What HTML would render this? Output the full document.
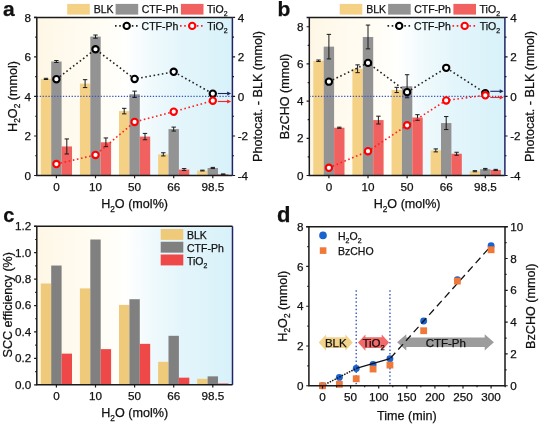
<!DOCTYPE html><html><head><meta charset="utf-8"><style>html,body{margin:0;padding:0;background:#fff;width:540px;height:424px;overflow:hidden}svg{display:block;will-change:transform}text{font-family:"Liberation Sans",sans-serif;fill:#111;stroke:#111;stroke-width:0.25px}</style></head><body>
<svg width="540" height="424" viewBox="0 0 540 424">
<linearGradient id="ga" x1="0" y1="0" x2="1" y2="0"><stop offset="0" stop-color="#fef7e6"/><stop offset="0.17" stop-color="#fffaee"/><stop offset="0.35" stop-color="#fffdf5"/><stop offset="0.45" stop-color="#fffffd"/><stop offset="0.53" stop-color="#f7fcfe"/><stop offset="0.6" stop-color="#eef9fc"/><stop offset="0.76" stop-color="#e2f5fb"/><stop offset="1" stop-color="#d8f1f9"/></linearGradient>
<rect x="36.8" y="17.45" width="195.6" height="158.05" fill="url(#ga)"/>
<rect x="40.8" y="78.89" width="10.4" height="96.61" fill="#f4d185"/>
<rect x="51.2" y="61.51" width="10.4" height="113.99" fill="#939393"/>
<rect x="61.6" y="146.46" width="10.4" height="29.04" fill="#f1615f"/>
<rect x="79.9" y="83.63" width="10.4" height="91.87" fill="#f4d185"/>
<rect x="90.3" y="36.61" width="10.4" height="138.89" fill="#939393"/>
<rect x="100.7" y="142.31" width="10.4" height="33.19" fill="#f1615f"/>
<rect x="119" y="111.09" width="10.4" height="64.41" fill="#f4d185"/>
<rect x="129.4" y="94.3" width="10.4" height="81.2" fill="#939393"/>
<rect x="139.8" y="136.58" width="10.4" height="38.92" fill="#f1615f"/>
<rect x="158.1" y="154.36" width="10.4" height="21.14" fill="#f4d185"/>
<rect x="168.5" y="129.07" width="10.4" height="46.43" fill="#939393"/>
<rect x="178.9" y="169.57" width="10.4" height="5.93" fill="#f1615f"/>
<rect x="197.2" y="170.56" width="10.4" height="4.94" fill="#f4d185"/>
<rect x="207.6" y="167.99" width="10.4" height="7.51" fill="#939393"/>
<rect x="218" y="174.31" width="10.4" height="1.19" fill="#f1615f"/>
<path d="M46 78.3V79.48M43.8 78.3H48.2M43.8 79.48H48.2" stroke="#1a1a1a" stroke-width="1" fill="none"/>
<path d="M56.4 60.52V62.49M54.2 60.52H58.6M54.2 62.49H58.6" stroke="#1a1a1a" stroke-width="1" fill="none"/>
<path d="M66.8 138.95V153.97M64.6 138.95H69M64.6 153.97H69" stroke="#1a1a1a" stroke-width="1" fill="none"/>
<path d="M85.1 79.68V87.58M82.9 79.68H87.3M82.9 87.58H87.3" stroke="#1a1a1a" stroke-width="1" fill="none"/>
<path d="M95.5 35.03V38.19M93.3 35.03H97.7M93.3 38.19H97.7" stroke="#1a1a1a" stroke-width="1" fill="none"/>
<path d="M105.9 137.96V146.66M103.7 137.96H108.1M103.7 146.66H108.1" stroke="#1a1a1a" stroke-width="1" fill="none"/>
<path d="M124.2 108.33V113.86M122 108.33H126.4M122 113.86H126.4" stroke="#1a1a1a" stroke-width="1" fill="none"/>
<path d="M134.6 91.14V97.46M132.4 91.14H136.8M132.4 97.46H136.8" stroke="#1a1a1a" stroke-width="1" fill="none"/>
<path d="M145 133.42V139.74M142.8 133.42H147.2M142.8 139.74H147.2" stroke="#1a1a1a" stroke-width="1" fill="none"/>
<path d="M163.3 152.78V155.94M161.1 152.78H165.5M161.1 155.94H165.5" stroke="#1a1a1a" stroke-width="1" fill="none"/>
<path d="M173.7 127.1V131.05M171.5 127.1H175.9M171.5 131.05H175.9" stroke="#1a1a1a" stroke-width="1" fill="none"/>
<path d="M184.1 168.59V170.56M181.9 168.59H186.3M181.9 170.56H186.3" stroke="#1a1a1a" stroke-width="1" fill="none"/>
<path d="M202.4 170.17V170.96M200.2 170.17H204.6M200.2 170.96H204.6" stroke="#1a1a1a" stroke-width="1" fill="none"/>
<path d="M212.8 167.4V168.59M210.6 167.4H215M210.6 168.59H215" stroke="#1a1a1a" stroke-width="1" fill="none"/>
<path d="M223.2 173.92V174.71M221 173.92H225.4M221 174.71H225.4" stroke="#1a1a1a" stroke-width="1" fill="none"/>
<line x1="36.8" y1="96.47" x2="232.4" y2="96.47" stroke="#3a58c0" stroke-width="1.3" stroke-dasharray="1.3 1.6"/>
<polyline points="56.4,79.19 95.5,49.26 134.6,78.97 173.7,71.78 212.8,93.71" fill="none" stroke="#222" stroke-width="1.6" stroke-dasharray="1.6 2.6"/>
<polyline points="56.4,164.04 95.5,154.95 134.6,121.96 173.7,111.69 212.8,100.72" fill="none" stroke="#ff2020" stroke-width="1.6" stroke-dasharray="1.6 2.6"/>
<circle cx="56.4" cy="79.19" r="3.15" fill="#fff" stroke="#000" stroke-width="2.1"/>
<circle cx="95.5" cy="49.26" r="3.15" fill="#fff" stroke="#000" stroke-width="2.1"/>
<circle cx="134.6" cy="78.97" r="3.15" fill="#fff" stroke="#000" stroke-width="2.1"/>
<circle cx="173.7" cy="71.78" r="3.15" fill="#fff" stroke="#000" stroke-width="2.1"/>
<circle cx="212.8" cy="93.71" r="3.15" fill="#fff" stroke="#000" stroke-width="2.1"/>
<circle cx="56.4" cy="164.04" r="3.15" fill="#fff" stroke="#ff0000" stroke-width="2.1"/>
<circle cx="95.5" cy="154.95" r="3.15" fill="#fff" stroke="#ff0000" stroke-width="2.1"/>
<circle cx="134.6" cy="121.96" r="3.15" fill="#fff" stroke="#ff0000" stroke-width="2.1"/>
<circle cx="173.7" cy="111.69" r="3.15" fill="#fff" stroke="#ff0000" stroke-width="2.1"/>
<circle cx="212.8" cy="100.72" r="3.15" fill="#fff" stroke="#ff0000" stroke-width="2.1"/>
<path d="M217.8 93.5H228.2" stroke="#1e2466" stroke-width="1.1"/>
<path d="M227.2 91.5L231.2 93.5L227.2 95.5Z" fill="#1e2466"/>
<path d="M217.8 101.5H228.2" stroke="#ff2020" stroke-width="1.1"/>
<path d="M227.2 99.5L231.2 101.5L227.2 103.5Z" fill="#ff2020"/>
<path d="M36.8 17.45V175.5H232.4M34.1 17.45H232.4" stroke="#1a1a1a" stroke-width="1.5" fill="none"/>
<path d="M232.4 17.45V175.5" stroke="#1e2466" stroke-width="1.5" fill="none"/>
<path d="M34.1 175.5H36.8M34.1 135.99H36.8M34.1 96.47H36.8M34.1 56.96H36.8M34.1 17.45H36.8M35.2 155.74H36.8M35.2 116.23H36.8M35.2 76.72H36.8M35.2 37.21H36.8M232.4 175.5H235.1M232.4 135.99H235.1M232.4 96.47H235.1M232.4 56.96H235.1M232.4 17.45H235.1M232.4 155.74H234M232.4 116.23H234M232.4 76.72H234M232.4 37.21H234M56.4 175.5V178.2M95.5 175.5V178.2M134.6 175.5V178.2M173.7 175.5V178.2M212.8 175.5V178.2" stroke="#1a1a1a" stroke-width="1.2" fill="none"/>
<text x="31.1" y="179.6" font-size="11.7" text-anchor="end" >0</text>
<text x="31.1" y="140.09" font-size="11.7" text-anchor="end" >2</text>
<text x="31.1" y="100.57" font-size="11.7" text-anchor="end" >4</text>
<text x="31.1" y="61.06" font-size="11.7" text-anchor="end" >6</text>
<text x="31.1" y="21.55" font-size="11.7" text-anchor="end" >8</text>
<text x="237.7" y="179.6" font-size="11.7" text-anchor="start" >-4</text>
<text x="237.7" y="140.09" font-size="11.7" text-anchor="start" >-2</text>
<text x="237.7" y="100.57" font-size="11.7" text-anchor="start" >0</text>
<text x="237.7" y="61.06" font-size="11.7" text-anchor="start" >2</text>
<text x="237.7" y="21.55" font-size="11.7" text-anchor="start" >4</text>
<text x="56.4" y="191.1" font-size="11.7" text-anchor="middle" >0</text>
<text x="95.5" y="191.1" font-size="11.7" text-anchor="middle" >10</text>
<text x="134.6" y="191.1" font-size="11.7" text-anchor="middle" >50</text>
<text x="173.7" y="191.1" font-size="11.7" text-anchor="middle" >66</text>
<text x="212.8" y="191.1" font-size="11.7" text-anchor="middle" >98.5</text>
<text x="134.6" y="208.1" font-size="12.6" text-anchor="middle" >H<tspan dy="3.53" font-size="8.32">2</tspan><tspan dy="-3.53">O (mol%)</tspan></text>
<text transform="translate(16.9,96.47) rotate(-90)" font-size="12.6" text-anchor="middle">H<tspan dy="3.53" font-size="8.32">2</tspan><tspan dy="-3.53">O<tspan dy="3.53" font-size="8.32">2</tspan><tspan dy="-3.53"> (mmol)</tspan></tspan></text>
<text transform="translate(261.6,96.47) rotate(-90)" font-size="12.6" text-anchor="middle">Photocat. - BLK (mmol)</text>
<text x="3" y="15.5" font-size="21" font-weight="bold">a</text>
<rect x="67.2" y="3.9" width="22.6" height="10.7" fill="#f4d185"/>
<text x="93.7" y="13.3" font-size="10.5" text-anchor="start" >BLK</text>
<rect x="115.6" y="3.9" width="22.6" height="10.7" fill="#939393"/>
<text x="141.7" y="13.3" font-size="10.5" text-anchor="start" >CTF-Ph</text>
<rect x="180.9" y="3.9" width="22.6" height="10.7" fill="#f1615f"/>
<text x="207.1" y="13.3" font-size="10.5" text-anchor="start" >TiO<tspan dy="2.94" font-size="6.93">2</tspan><tspan dy="-2.94"></tspan></text>
<path d="M115 25.9H138.5" stroke="#222" stroke-width="1.6" stroke-dasharray="1.6 2.6"/>
<circle cx="126.7" cy="25.9" r="3.15" fill="#fff" stroke="#000" stroke-width="2.1"/>
<text x="141.6" y="29.8" font-size="10.5" text-anchor="start" >CTF-Ph</text>
<path d="M180 25.9H204" stroke="#ff2020" stroke-width="1.6" stroke-dasharray="1.6 2.6"/>
<circle cx="192.2" cy="25.9" r="3.15" fill="#fff" stroke="#ff0000" stroke-width="2.1"/>
<text x="207.2" y="29.8" font-size="10.5" text-anchor="start" >TiO<tspan dy="2.94" font-size="6.93">2</tspan><tspan dy="-2.94"></tspan></text>
<linearGradient id="gb" x1="0" y1="0" x2="1" y2="0"><stop offset="0" stop-color="#fef7e6"/><stop offset="0.17" stop-color="#fffaee"/><stop offset="0.35" stop-color="#fffdf5"/><stop offset="0.45" stop-color="#fffffd"/><stop offset="0.53" stop-color="#f7fcfe"/><stop offset="0.6" stop-color="#eef9fc"/><stop offset="0.76" stop-color="#e2f5fb"/><stop offset="1" stop-color="#d8f1f9"/></linearGradient>
<rect x="309.3" y="17.45" width="195.6" height="158.05" fill="url(#gb)"/>
<rect x="313.3" y="60.77" width="10.4" height="114.73" fill="#f4d185"/>
<rect x="323.7" y="46.64" width="10.4" height="128.86" fill="#939393"/>
<rect x="334.1" y="127.71" width="10.4" height="47.79" fill="#f1615f"/>
<rect x="352.4" y="68.77" width="10.4" height="106.73" fill="#f4d185"/>
<rect x="362.8" y="36.97" width="10.4" height="138.53" fill="#939393"/>
<rect x="373.2" y="120.09" width="10.4" height="55.41" fill="#f1615f"/>
<rect x="391.5" y="89.97" width="10.4" height="85.53" fill="#f4d185"/>
<rect x="401.9" y="86.25" width="10.4" height="89.25" fill="#939393"/>
<rect x="412.3" y="117.49" width="10.4" height="58.01" fill="#f1615f"/>
<rect x="430.6" y="150.4" width="10.4" height="25.1" fill="#f4d185"/>
<rect x="441" y="123.06" width="10.4" height="52.44" fill="#939393"/>
<rect x="451.4" y="153.74" width="10.4" height="21.76" fill="#f1615f"/>
<rect x="469.7" y="171.22" width="10.4" height="4.28" fill="#f4d185"/>
<rect x="480.1" y="169.18" width="10.4" height="6.32" fill="#939393"/>
<rect x="490.5" y="169.92" width="10.4" height="5.58" fill="#f1615f"/>
<path d="M318.5 60.03V61.52M316.3 60.03H320.7M316.3 61.52H320.7" stroke="#1a1a1a" stroke-width="1" fill="none"/>
<path d="M328.9 34.37V58.91M326.7 34.37H331.1M326.7 58.91H331.1" stroke="#1a1a1a" stroke-width="1" fill="none"/>
<path d="M339.3 127.16V128.27M337.1 127.16H341.5M337.1 128.27H341.5" stroke="#1a1a1a" stroke-width="1" fill="none"/>
<path d="M357.6 64.86V72.67M355.4 64.86H359.8M355.4 72.67H359.8" stroke="#1a1a1a" stroke-width="1" fill="none"/>
<path d="M368 25.07V48.87M365.8 25.07H370.2M365.8 48.87H370.2" stroke="#1a1a1a" stroke-width="1" fill="none"/>
<path d="M378.4 116.18V123.99M376.2 116.18H380.6M376.2 123.99H380.6" stroke="#1a1a1a" stroke-width="1" fill="none"/>
<path d="M396.7 87.36V92.57M394.5 87.36H398.9M394.5 92.57H398.9" stroke="#1a1a1a" stroke-width="1" fill="none"/>
<path d="M407.1 74.72V97.78M404.9 74.72H409.3M404.9 97.78H409.3" stroke="#1a1a1a" stroke-width="1" fill="none"/>
<path d="M417.5 114.7V120.28M415.3 114.7H419.7M415.3 120.28H419.7" stroke="#1a1a1a" stroke-width="1" fill="none"/>
<path d="M435.8 148.91V151.89M433.6 148.91H438M433.6 151.89H438" stroke="#1a1a1a" stroke-width="1" fill="none"/>
<path d="M446.2 116.56V129.57M444 116.56H448.4M444 129.57H448.4" stroke="#1a1a1a" stroke-width="1" fill="none"/>
<path d="M456.6 152.26V155.23M454.4 152.26H458.8M454.4 155.23H458.8" stroke="#1a1a1a" stroke-width="1" fill="none"/>
<path d="M474.9 170.67V171.78M472.7 170.67H477.1M472.7 171.78H477.1" stroke="#1a1a1a" stroke-width="1" fill="none"/>
<path d="M485.3 168.43V169.92M483.1 168.43H487.5M483.1 169.92H487.5" stroke="#1a1a1a" stroke-width="1" fill="none"/>
<path d="M495.7 169.36V170.48M493.5 169.36H497.9M493.5 170.48H497.9" stroke="#1a1a1a" stroke-width="1" fill="none"/>
<line x1="309.3" y1="96.47" x2="504.9" y2="96.47" stroke="#3a58c0" stroke-width="1.3" stroke-dasharray="1.3 1.6"/>
<polyline points="328.9,81.66 368,62.89 407.1,92.13 446.2,67.83 485.3,93.12" fill="none" stroke="#222" stroke-width="1.6" stroke-dasharray="1.6 2.6"/>
<polyline points="328.9,167.8 368,151.2 407.1,125.32 446.2,100.43 485.3,95.29" fill="none" stroke="#ff2020" stroke-width="1.6" stroke-dasharray="1.6 2.6"/>
<circle cx="328.9" cy="81.66" r="3.15" fill="#fff" stroke="#000" stroke-width="2.1"/>
<circle cx="368" cy="62.89" r="3.15" fill="#fff" stroke="#000" stroke-width="2.1"/>
<circle cx="407.1" cy="92.13" r="3.15" fill="#fff" stroke="#000" stroke-width="2.1"/>
<circle cx="446.2" cy="67.83" r="3.15" fill="#fff" stroke="#000" stroke-width="2.1"/>
<circle cx="485.3" cy="93.12" r="3.15" fill="#fff" stroke="#000" stroke-width="2.1"/>
<circle cx="328.9" cy="167.8" r="3.15" fill="#fff" stroke="#ff0000" stroke-width="2.1"/>
<circle cx="368" cy="151.2" r="3.15" fill="#fff" stroke="#ff0000" stroke-width="2.1"/>
<circle cx="407.1" cy="125.32" r="3.15" fill="#fff" stroke="#ff0000" stroke-width="2.1"/>
<circle cx="446.2" cy="100.43" r="3.15" fill="#fff" stroke="#ff0000" stroke-width="2.1"/>
<circle cx="485.3" cy="95.29" r="3.15" fill="#fff" stroke="#ff0000" stroke-width="2.1"/>
<path d="M490.3 91.3H500.7" stroke="#1e2466" stroke-width="1.1"/>
<path d="M499.7 89.3L503.7 91.3L499.7 93.3Z" fill="#1e2466"/>
<path d="M490.3 97.5H500.7" stroke="#ff2020" stroke-width="1.1"/>
<path d="M499.7 95.5L503.7 97.5L499.7 99.5Z" fill="#ff2020"/>
<path d="M309.3 17.45V175.5H504.9M306.6 17.45H504.9" stroke="#1a1a1a" stroke-width="1.5" fill="none"/>
<path d="M504.9 17.45V175.5" stroke="#1e2466" stroke-width="1.5" fill="none"/>
<path d="M306.6 175.5H309.3M306.6 138.31H309.3M306.6 101.12H309.3M306.6 63.94H309.3M306.6 26.75H309.3M307.7 156.91H309.3M307.7 119.72H309.3M307.7 82.53H309.3M307.7 45.34H309.3M504.9 175.5H507.6M504.9 135.99H507.6M504.9 96.47H507.6M504.9 56.96H507.6M504.9 17.45H507.6M504.9 155.74H506.5M504.9 116.23H506.5M504.9 76.72H506.5M504.9 37.21H506.5M328.9 175.5V178.2M368 175.5V178.2M407.1 175.5V178.2M446.2 175.5V178.2M485.3 175.5V178.2" stroke="#1a1a1a" stroke-width="1.2" fill="none"/>
<text x="303.6" y="179.6" font-size="11.7" text-anchor="end" >0</text>
<text x="303.6" y="142.41" font-size="11.7" text-anchor="end" >2</text>
<text x="303.6" y="105.22" font-size="11.7" text-anchor="end" >4</text>
<text x="303.6" y="68.04" font-size="11.7" text-anchor="end" >6</text>
<text x="303.6" y="30.85" font-size="11.7" text-anchor="end" >8</text>
<text x="510.2" y="179.6" font-size="11.7" text-anchor="start" >-4</text>
<text x="510.2" y="140.09" font-size="11.7" text-anchor="start" >-2</text>
<text x="510.2" y="100.57" font-size="11.7" text-anchor="start" >0</text>
<text x="510.2" y="61.06" font-size="11.7" text-anchor="start" >2</text>
<text x="510.2" y="21.55" font-size="11.7" text-anchor="start" >4</text>
<text x="328.9" y="191.1" font-size="11.7" text-anchor="middle" >0</text>
<text x="368" y="191.1" font-size="11.7" text-anchor="middle" >10</text>
<text x="407.1" y="191.1" font-size="11.7" text-anchor="middle" >50</text>
<text x="446.2" y="191.1" font-size="11.7" text-anchor="middle" >66</text>
<text x="485.3" y="191.1" font-size="11.7" text-anchor="middle" >98.5</text>
<text x="407.1" y="208.1" font-size="12.6" text-anchor="middle" >H<tspan dy="3.53" font-size="8.32">2</tspan><tspan dy="-3.53">O (mol%)</tspan></text>
<text transform="translate(289.4,96.47) rotate(-90)" font-size="12.6" text-anchor="middle">BzCHO (mmol)</text>
<text transform="translate(534.1,96.47) rotate(-90)" font-size="12.6" text-anchor="middle">Photocat. - BLK (mmol)</text>
<text x="277.6" y="15.5" font-size="21" font-weight="bold">b</text>
<rect x="339.7" y="3.9" width="22.6" height="10.7" fill="#f4d185"/>
<text x="366.2" y="13.3" font-size="10.5" text-anchor="start" >BLK</text>
<rect x="388.1" y="3.9" width="22.6" height="10.7" fill="#939393"/>
<text x="414.2" y="13.3" font-size="10.5" text-anchor="start" >CTF-Ph</text>
<rect x="453.4" y="3.9" width="22.6" height="10.7" fill="#f1615f"/>
<text x="479.6" y="13.3" font-size="10.5" text-anchor="start" >TiO<tspan dy="2.94" font-size="6.93">2</tspan><tspan dy="-2.94"></tspan></text>
<path d="M387.5 25.9H411" stroke="#222" stroke-width="1.6" stroke-dasharray="1.6 2.6"/>
<circle cx="399.2" cy="25.9" r="3.15" fill="#fff" stroke="#000" stroke-width="2.1"/>
<text x="414.1" y="29.8" font-size="10.5" text-anchor="start" >CTF-Ph</text>
<path d="M452.5 25.9H476.5" stroke="#ff2020" stroke-width="1.6" stroke-dasharray="1.6 2.6"/>
<circle cx="464.7" cy="25.9" r="3.15" fill="#fff" stroke="#ff0000" stroke-width="2.1"/>
<text x="479.7" y="29.8" font-size="10.5" text-anchor="start" >TiO<tspan dy="2.94" font-size="6.93">2</tspan><tspan dy="-2.94"></tspan></text>
<linearGradient id="gc" x1="0" y1="0" x2="1" y2="0"><stop offset="0" stop-color="#fef7e6"/><stop offset="0.17" stop-color="#fffaee"/><stop offset="0.35" stop-color="#fffdf5"/><stop offset="0.45" stop-color="#fffffd"/><stop offset="0.53" stop-color="#f7fcfe"/><stop offset="0.6" stop-color="#eef9fc"/><stop offset="0.76" stop-color="#e2f5fb"/><stop offset="1" stop-color="#d8f1f9"/></linearGradient>
<rect x="36.8" y="226.3" width="195.7" height="158.5" fill="url(#gc)"/>
<rect x="40.8" y="283.49" width="10.4" height="101.31" fill="#efca7b"/>
<rect x="51.2" y="265.53" width="10.4" height="119.27" fill="#808080"/>
<rect x="61.6" y="353.63" width="10.4" height="31.17" fill="#ef4848"/>
<rect x="79.9" y="288.38" width="10.4" height="96.42" fill="#efca7b"/>
<rect x="90.3" y="239.51" width="10.4" height="145.29" fill="#808080"/>
<rect x="100.7" y="349.14" width="10.4" height="35.66" fill="#ef4848"/>
<rect x="119" y="304.89" width="10.4" height="79.91" fill="#efca7b"/>
<rect x="129.4" y="299.21" width="10.4" height="85.59" fill="#808080"/>
<rect x="139.8" y="343.85" width="10.4" height="40.95" fill="#ef4848"/>
<rect x="158.1" y="361.82" width="10.4" height="22.98" fill="#efca7b"/>
<rect x="168.5" y="335.8" width="10.4" height="49" fill="#808080"/>
<rect x="178.9" y="377.67" width="10.4" height="7.13" fill="#ef4848"/>
<rect x="197.2" y="378.86" width="10.4" height="5.94" fill="#efca7b"/>
<rect x="207.6" y="376.35" width="10.4" height="8.45" fill="#808080"/>
<rect x="218" y="383.48" width="10.4" height="1.32" fill="#ef4848"/>
<path d="M36.8 226.3V384.8H232.5M34.1 226.3H232.5" stroke="#1a1a1a" stroke-width="1.5" fill="none"/>
<path d="M232.5 226.3V384.8" stroke="#1e2466" stroke-width="1.5" fill="none"/>
<path d="M34.1 384.8H36.8M34.1 358.38H36.8M34.1 331.97H36.8M34.1 305.55H36.8M34.1 279.13H36.8M34.1 252.72H36.8M34.1 226.3H36.8M35.2 371.59H36.8M35.2 345.18H36.8M35.2 318.76H36.8M35.2 292.34H36.8M35.2 265.93H36.8M35.2 239.51H36.8M56.4 384.8V387.5M95.5 384.8V387.5M134.6 384.8V387.5M173.7 384.8V387.5M212.8 384.8V387.5" stroke="#1a1a1a" stroke-width="1.2" fill="none"/>
<text x="31.3" y="388.7" font-size="11.7" text-anchor="end" >0.0</text>
<text x="31.3" y="362.28" font-size="11.7" text-anchor="end" >0.2</text>
<text x="31.3" y="335.87" font-size="11.7" text-anchor="end" >0.4</text>
<text x="31.3" y="309.45" font-size="11.7" text-anchor="end" >0.6</text>
<text x="31.3" y="283.03" font-size="11.7" text-anchor="end" >0.8</text>
<text x="31.3" y="256.62" font-size="11.7" text-anchor="end" >1.0</text>
<text x="31.3" y="230.2" font-size="11.7" text-anchor="end" >1.2</text>
<text x="56.4" y="400.4" font-size="11.7" text-anchor="middle" >0</text>
<text x="95.5" y="400.4" font-size="11.7" text-anchor="middle" >10</text>
<text x="134.6" y="400.4" font-size="11.7" text-anchor="middle" >50</text>
<text x="173.7" y="400.4" font-size="11.7" text-anchor="middle" >66</text>
<text x="212.8" y="400.4" font-size="11.7" text-anchor="middle" >98.5</text>
<text x="134.65" y="417.4" font-size="12.6" text-anchor="middle" >H<tspan dy="3.53" font-size="8.32">2</tspan><tspan dy="-3.53">O (mol%)</tspan></text>
<text transform="translate(11.6,304.75) rotate(-90)" font-size="12.6" text-anchor="middle">SCC efficiency (%)</text>
<text x="3.2" y="222.3" font-size="20" font-weight="bold">c</text>
<rect x="160.7" y="229" width="22.6" height="10.9" fill="#efca7b"/>
<text x="187" y="239.1" font-size="10.5" text-anchor="start" >BLK</text>
<rect x="160.7" y="241.75" width="22.6" height="10.9" fill="#808080"/>
<text x="187" y="251.85" font-size="10.5" text-anchor="start" >CTF-Ph</text>
<rect x="160.7" y="254.5" width="22.6" height="10.9" fill="#ef4848"/>
<text x="187" y="264.6" font-size="10.5" text-anchor="start" >TiO<tspan dy="2.94" font-size="6.93">2</tspan><tspan dy="-2.94"></tspan></text>
<line x1="356.22" y1="290.2" x2="356.22" y2="385.75" stroke="#3a58c0" stroke-width="1.4" stroke-dasharray="1.5 2.2"/>
<line x1="389.94" y1="290.2" x2="389.94" y2="385.75" stroke="#3a58c0" stroke-width="1.4" stroke-dasharray="1.5 2.2"/>
<path d="M318.7 342.6L326.1 334.5V337.3H345.4V334.5L352.8 342.6L345.4 350.7V347.9H326.1V350.7Z" fill="#f2d38c"/>
<path d="M358 342.6L365.4 334.5V337.3H381.7V334.5L389.1 342.6L381.7 350.7V347.9H365.4V350.7Z" fill="#f26a6a"/>
<path d="M397.1 342.3L406.3 334.2V337.5H484.7V334.2L493.9 342.3L484.7 350.4V347.1H406.3V350.4Z" fill="#9c9c9c"/>
<text x="335.8" y="347" font-size="11.5" text-anchor="middle" >BLK</text>
<text x="373.6" y="347" font-size="11.5" text-anchor="middle" >TiO<tspan dy="3.22" font-size="7.59">2</tspan><tspan dy="-3.22"></tspan></text>
<text x="445.8" y="347" font-size="11.5" text-anchor="middle" >CTF-Ph</text>
<circle cx="322.5" cy="385.75" r="3.45" fill="#1a62d0"/>
<circle cx="339.36" cy="377.4" r="3.45" fill="#1a62d0"/>
<circle cx="356.22" cy="368.45" r="3.45" fill="#1a62d0"/>
<circle cx="373.08" cy="364.48" r="3.45" fill="#1a62d0"/>
<circle cx="389.94" cy="358.71" r="3.45" fill="#1a62d0"/>
<circle cx="423.66" cy="320.94" r="3.45" fill="#1a62d0"/>
<circle cx="457.38" cy="279.58" r="3.45" fill="#1a62d0"/>
<circle cx="491.1" cy="245.79" r="3.45" fill="#1a62d0"/>
<path d="M322.5 385.75L356.22 368.45" stroke="#111" stroke-width="1.5" stroke-dasharray="1.5 1.2"/>
<path d="M356.22 368.45L389.94 358.71" stroke="#111" stroke-width="1.3"/>
<path d="M491.1 245.79L389.94 358.71" stroke="#111" stroke-width="1.3" stroke-dasharray="7.2 4.4" stroke-dashoffset="7.2"/>
<rect x="319.1" y="382.35" width="6.8" height="6.8" fill="#f07838"/>
<rect x="335.96" y="380.92" width="6.8" height="6.8" fill="#f07838"/>
<rect x="352.82" y="375.35" width="6.8" height="6.8" fill="#f07838"/>
<rect x="369.68" y="365.65" width="6.8" height="6.8" fill="#f07838"/>
<rect x="386.54" y="361.67" width="6.8" height="6.8" fill="#f07838"/>
<rect x="420.26" y="327.32" width="6.8" height="6.8" fill="#f07838"/>
<rect x="453.98" y="277.7" width="6.8" height="6.8" fill="#f07838"/>
<rect x="487.7" y="246.36" width="6.8" height="6.8" fill="#f07838"/>
<path d="M308.9 226.7V385.75H505V226.7M306.2 226.7H507.7" stroke="#1a1a1a" stroke-width="1.5" fill="none"/>
<path d="M306.2 385.75H308.9M306.2 345.99H308.9M306.2 306.23H308.9M306.2 266.46H308.9M306.2 226.7H308.9M307.3 365.87H308.9M307.3 326.11H308.9M307.3 286.34H308.9M307.3 246.58H308.9M505 385.75H507.7M505 353.94H507.7M505 322.13H507.7M505 290.32H507.7M505 258.51H507.7M505 226.7H507.7M505 369.85H506.6M505 338.03H506.6M505 306.23H506.6M505 274.41H506.6M505 242.6H506.6M322.5 385.75V388.45M350.6 385.75V388.45M378.7 385.75V388.45M406.8 385.75V388.45M434.9 385.75V388.45M463 385.75V388.45M491.1 385.75V388.45M336.55 385.75V387.35M364.65 385.75V387.35M392.75 385.75V387.35M420.85 385.75V387.35M448.95 385.75V387.35M477.05 385.75V387.35M505.15 385.75V387.35" stroke="#1a1a1a" stroke-width="1.2" fill="none"/>
<text x="303.4" y="389.85" font-size="11.7" text-anchor="end" >0</text>
<text x="303.4" y="350.09" font-size="11.7" text-anchor="end" >2</text>
<text x="303.4" y="310.33" font-size="11.7" text-anchor="end" >4</text>
<text x="303.4" y="270.56" font-size="11.7" text-anchor="end" >6</text>
<text x="303.4" y="230.8" font-size="11.7" text-anchor="end" >8</text>
<text x="510.3" y="389.85" font-size="11.7" text-anchor="start" >0</text>
<text x="510.3" y="358.04" font-size="11.7" text-anchor="start" >2</text>
<text x="510.3" y="326.23" font-size="11.7" text-anchor="start" >4</text>
<text x="510.3" y="294.42" font-size="11.7" text-anchor="start" >6</text>
<text x="510.3" y="262.61" font-size="11.7" text-anchor="start" >8</text>
<text x="510.3" y="230.8" font-size="11.7" text-anchor="start" >10</text>
<text x="322.5" y="401.35" font-size="11.7" text-anchor="middle" >0</text>
<text x="350.6" y="401.35" font-size="11.7" text-anchor="middle" >50</text>
<text x="378.7" y="401.35" font-size="11.7" text-anchor="middle" >100</text>
<text x="406.8" y="401.35" font-size="11.7" text-anchor="middle" >150</text>
<text x="434.9" y="401.35" font-size="11.7" text-anchor="middle" >200</text>
<text x="463" y="401.35" font-size="11.7" text-anchor="middle" >250</text>
<text x="491.1" y="401.35" font-size="11.7" text-anchor="middle" >300</text>
<text x="406.95" y="420.25" font-size="12.6" text-anchor="middle" >Time (min)</text>
<text transform="translate(286.8,306.23) rotate(-90)" font-size="12.6" text-anchor="middle">H<tspan dy="3.53" font-size="8.32">2</tspan><tspan dy="-3.53">O<tspan dy="3.53" font-size="8.32">2</tspan><tspan dy="-3.53"> (mmol)</tspan></tspan></text>
<text transform="translate(535,306.23) rotate(-90)" font-size="12.6" text-anchor="middle">BzCHO (mmol)</text>
<text x="277" y="222" font-size="22" font-weight="bold">d</text>
<circle cx="323" cy="235.4" r="3.8" fill="#1a62d0"/>
<text x="338" y="239.8" font-size="10.5" text-anchor="start" >H<tspan dy="2.94" font-size="6.93">2</tspan><tspan dy="-2.94">O<tspan dy="2.94" font-size="6.93">2</tspan><tspan dy="-2.94"></tspan></tspan></text>
<rect x="319.8" y="247.3" width="6.6" height="6.6" fill="#f07838"/>
<text x="338" y="254.9" font-size="10.5" text-anchor="start" >BzCHO</text>
</svg></body></html>
